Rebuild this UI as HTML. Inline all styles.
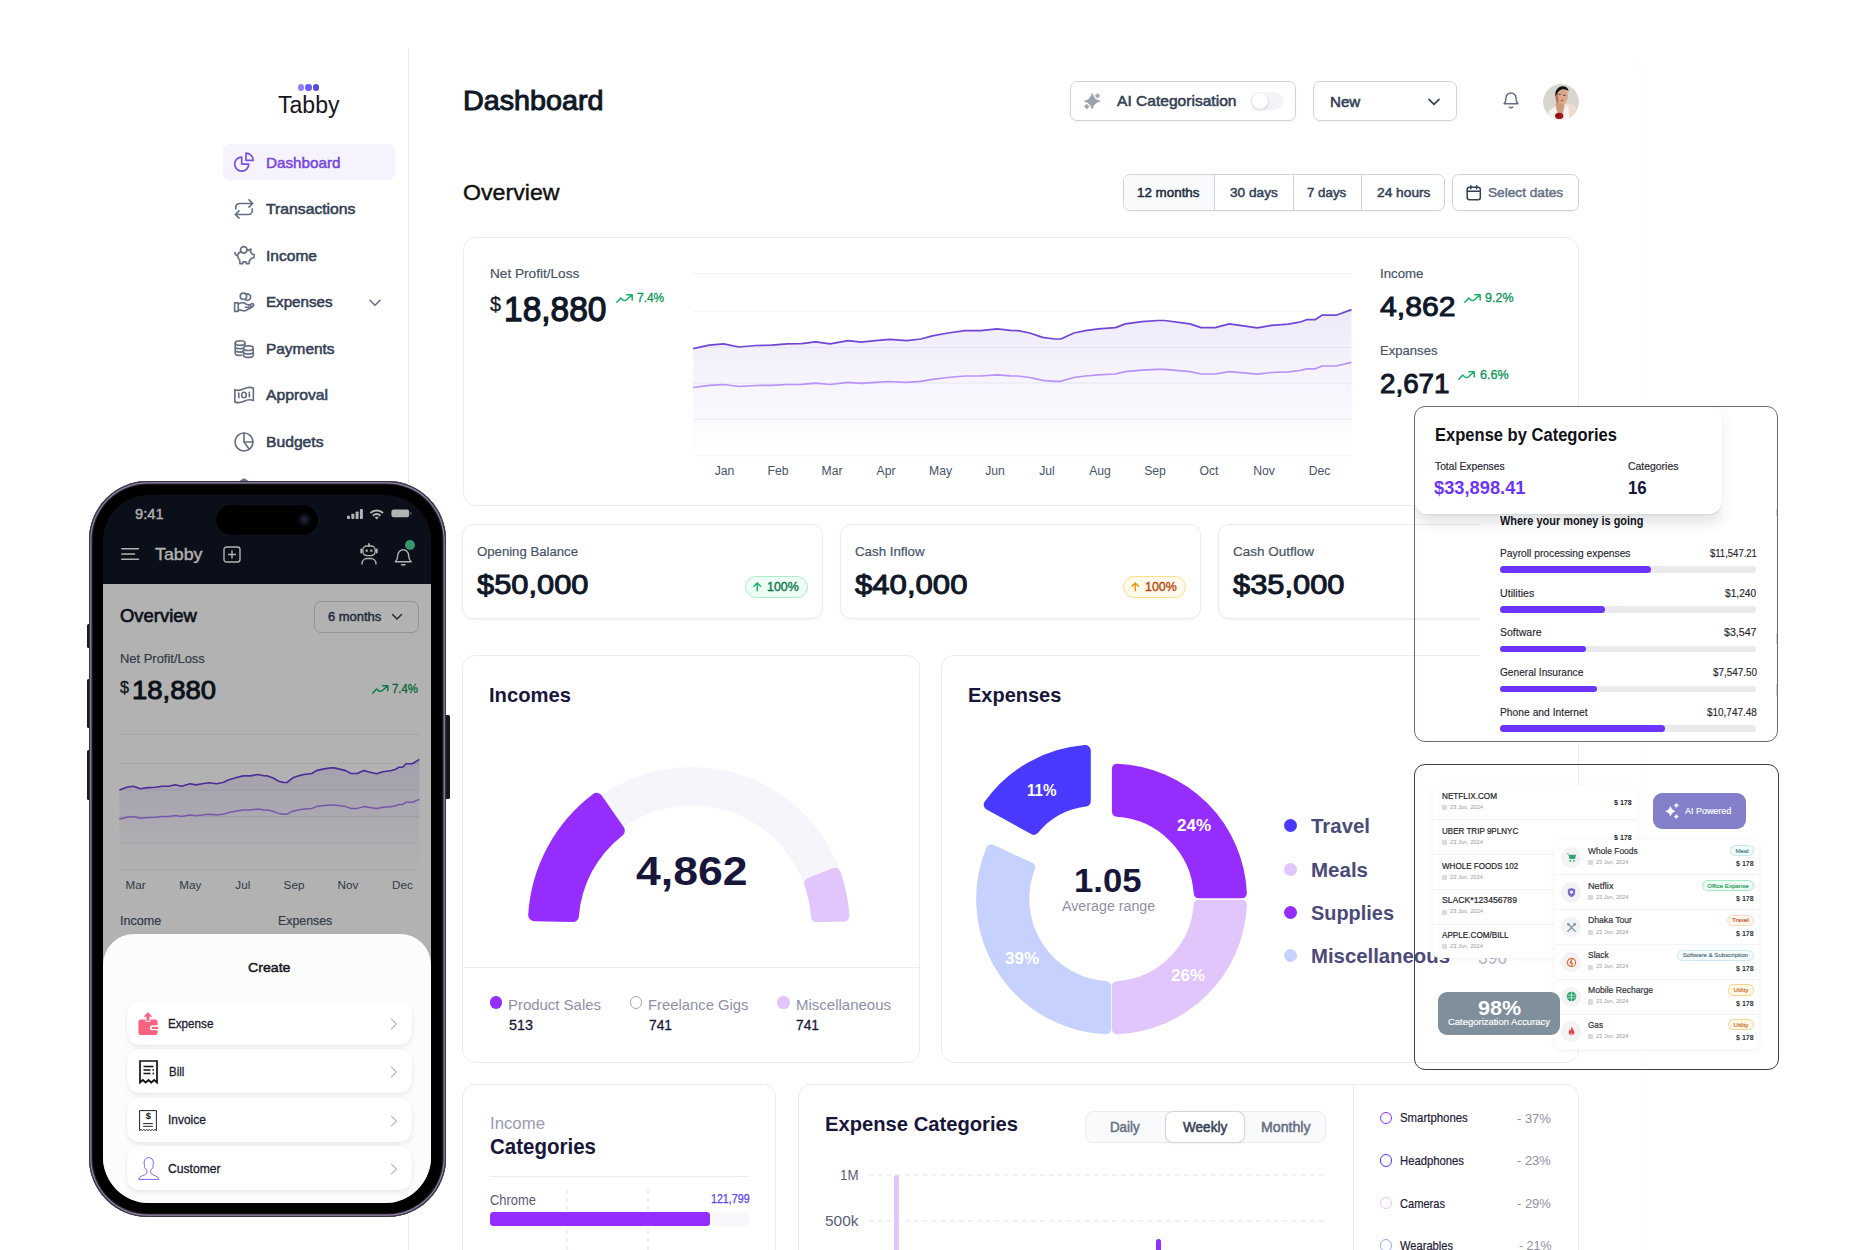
<!DOCTYPE html><html><head><meta charset="utf-8"><title>Tabby Dashboard</title><style>html,body{margin:0;padding:0}body{width:1850px;height:1250px;position:relative;overflow:hidden;background:#fff;font-family:"Liberation Sans", sans-serif;}div{box-sizing:border-box}.t{position:absolute;white-space:nowrap;line-height:1;}svg{position:absolute;overflow:visible}</style></head><body><div style="position:absolute;left:1500px;top:47px;width:142.5px;height:1300px;border-right:1px solid #fbfbfd;border-top:1.2px solid transparent;border-top-right-radius:34px;"></div>
<div style="position:absolute;left:407.5px;top:48px;width:1.2px;height:1202px;background:#e9eaf0;"></div>
<div style="position:absolute;left:297.8px;top:84.10000000000001px;width:6.6px;height:6.6px;border-radius:50%;background:#8b85ff;"></div>
<div style="position:absolute;left:305.2px;top:84.10000000000001px;width:6.6px;height:6.6px;border-radius:50%;background:#6a5cff;"></div>
<div style="position:absolute;left:312.7px;top:84.10000000000001px;width:6.6px;height:6.6px;border-radius:50%;background:#5a48d8;"></div>
<span class="t" style="left:277.50px;top:93.22px;font-size:24.32px;color:#17141c;transform-origin:0 50%;transform:scaleX(0.9477);">Tabby</span>
<div style="position:absolute;left:222.7px;top:144.3px;width:172px;height:35.6px;background:#f6f3fe;border-radius:7px;"></div>
<svg style="left:233px;top:151.3px" width="22" height="22" viewBox="0 0 24 24" fill="none" stroke="#7a50e0" stroke-width="1.82" stroke-linecap="round" stroke-linejoin="round"><path d="M9.500 6.600A7.700 7.700 0 1 0 17.200 14.300H9.500Z"/><path d="M14.200 2.400a7.900 7.900 0 0 1 7.900 7.900h-7.900z"/></svg>
<span class="t" style="left:265.60px;top:155.63px;font-size:14.8px;color:#7848de;-webkit-text-stroke:0.53px #7848de;transform-origin:0 50%;transform:scaleX(1.0291);">Dashboard</span>
<svg style="left:233px;top:197.85000000000002px" width="22" height="22" viewBox="0 0 24 24" fill="none" stroke="#667085" stroke-width="1.82" stroke-linecap="round" stroke-linejoin="round"><path d="M17.500 2L21.500 6l-4 4M21.500 6H7.200A4.200 4.200 0 0 0 3 10.200V12M6.500 22L2.500 18l4-4M2.500 18h14.300A4.200 4.200 0 0 0 21 13.800V12"/></svg>
<span class="t" style="left:265.60px;top:202.18px;font-size:14.8px;color:#344054;-webkit-text-stroke:0.53px #344054;transform-origin:0 50%;transform:scaleX(1.0633);">Transactions</span>
<svg style="left:233px;top:244.4px" width="22" height="22" viewBox="0 0 24 24" fill="none" stroke="#667085" stroke-width="1.82" stroke-linecap="round" stroke-linejoin="round"><circle cx="11.800" cy="6.400" r="3.600"/><path d="M8.600 8.300C6.400 9.200 5.100 11 5.100 13.100c0 1.700.8 3.200 2.100 4.300L7.600 21.500h3l.3-2h3.300l.3 2h3l.5-3.400c.9-.7 1.600-1.500 2-2.500l2.900-.600v-3.800l-2.300-.300c-.3-1-.8-1.800-1.500-2.500l.5-2.800c-1.200.100-2.200.700-2.900 1.500l-1.400-.500M5.200 12.700C3.300 12.700 2 11.400 2.200 9.300"/></svg>
<span class="t" style="left:265.60px;top:248.73px;font-size:14.8px;color:#344054;-webkit-text-stroke:0.53px #344054;transform-origin:0 50%;transform:scaleX(1.0509);">Income</span>
<svg style="left:233px;top:290.95px" width="22" height="22" viewBox="0 0 24 24" fill="none" stroke="#667085" stroke-width="1.82" stroke-linecap="round" stroke-linejoin="round"><circle cx="11.400" cy="5.800" r="3.500"/><path d="M14.600 3.400a3.500 3.500 0 1 1-.7 6.300"/><path d="M1.800 13h3.900v9.200H1.800zM5.700 14.300c1.700-1.100 3.500-1.700 5.300-1.600 1 0 2 .8 3.200 1.600.7.500 1.600.600 2.500.700l2 .100c1.300.100 1.300 2.300 0 2.400l-5.200.200M5.700 20.300l5.500 1.300c.9.200 1.800.100 2.600-.300l7.500-4.200c1.800-1 1.600-3.300-.2-3.300-.5 0-1 .200-1.500.500l-2.300 1.300"/></svg>
<span class="t" style="left:265.60px;top:295.28px;font-size:14.8px;color:#344054;-webkit-text-stroke:0.53px #344054;transform-origin:0 50%;transform:scaleX(1.0233);">Expenses</span>
<svg style="left:233px;top:337.5px" width="22" height="22" viewBox="0 0 24 24" fill="none" stroke="#667085" stroke-width="1.82" stroke-linecap="round" stroke-linejoin="round"><ellipse cx="7.700" cy="5.500" rx="5.300" ry="2.500"/><path d="M2.400 5.500v11c0 1.400 2.300 2.500 5.300 2.500.700 0 1.300-.100 1.900-.200M13 5.500V8.500M2.400 9.200c0 1.400 2.300 2.500 5.300 2.500 1.300 0 2.400-.200 3.300-.500M2.400 12.900c0 1.400 2.300 2.500 5.300 2.500 1.300 0 2.400-.200 3.300-.500"/><ellipse cx="16.800" cy="11.100" rx="5.300" ry="2.500"/><path d="M11.500 11.100v7.600c0 1.400 2.300 2.500 5.300 2.500s5.300-1.100 5.300-2.500V11.100M11.500 14.900c0 1.400 2.300 2.500 5.300 2.500s5.300-1.100 5.300-2.500"/></svg>
<span class="t" style="left:265.60px;top:341.83px;font-size:14.8px;color:#344054;-webkit-text-stroke:0.53px #344054;transform-origin:0 50%;transform:scaleX(1.0411);">Payments</span>
<svg style="left:233px;top:384.05px" width="22" height="22" viewBox="0 0 24 24" fill="none" stroke="#667085" stroke-width="1.82" stroke-linecap="round" stroke-linejoin="round"><path d="M2 6.200C5 7.500 8.500 7 12 5.300S19 3.200 22.200 4.500V18c-3.200-1.300-6.700-.9-10.200.8S5 20.800 2 19.500z"/><ellipse cx="12" cy="12" rx="2.500" ry="3"/><path d="M6.300 10v5M17.800 9v5"/></svg>
<span class="t" style="left:265.60px;top:388.38px;font-size:14.8px;color:#344054;-webkit-text-stroke:0.53px #344054;transform-origin:0 50%;transform:scaleX(1.0615);">Approval</span>
<svg style="left:233px;top:430.59999999999997px" width="22" height="22" viewBox="0 0 24 24" fill="none" stroke="#667085" stroke-width="1.82" stroke-linecap="round" stroke-linejoin="round"><circle cx="12" cy="12" r="9.800"/><path d="M12 2.200V12h9.800M12 12l5.800 7.900"/></svg>
<span class="t" style="left:265.60px;top:434.93px;font-size:14.8px;color:#344054;-webkit-text-stroke:0.53px #344054;transform-origin:0 50%;transform:scaleX(1.0590);">Budgets</span>
<svg style="left:368px;top:297.500px" width="14" height="10" viewBox="0 0 14 10" fill="none" stroke="#667085" stroke-width="1.600" stroke-linecap="round" stroke-linejoin="round"><path d="M2 2.300l5 5 5-5"/></svg>
<svg style="left:233px;top:477.15px" width="22" height="22" viewBox="0 0 24 24" fill="none" stroke="#667085" stroke-width="1.82" stroke-linecap="round" stroke-linejoin="round"><path d="M12 2.300L2.500 8h19zM4.500 8v9M9.500 8v9M14.500 8v9M19.500 8v9M2.500 20.500h19"/></svg>
<span class="t" style="left:463.00px;top:87.09px;font-size:27.94px;color:#101828;-webkit-text-stroke:1.01px #101828;transform-origin:0 50%;transform:scaleX(1.0279);">Dashboard</span>
<div style="position:absolute;left:1070px;top:81px;width:225.6px;height:40px;border:1px solid #d0d5dd;border-radius:7px;box-shadow:0 1px 2px rgba(16,24,40,.06);"></div>
<svg style="left:0;top:0" width="1850" height="1250" viewBox="0 0 1850 1250" fill="#98a2b3" stroke="#98a2b3" stroke-width="0.9" stroke-linejoin="round"><path d="M1092.20,93.50Q1093.66,99.74 1099.90,101.20Q1093.66,102.66 1092.20,108.90Q1090.74,102.66 1084.50,101.20Q1090.74,99.74 1092.20,93.50Z"/><path d="M1097.50,93.50Q1098.19,95.11 1099.80,95.80Q1098.19,96.49 1097.50,98.10Q1096.81,96.49 1095.20,95.80Q1096.81,95.11 1097.50,93.50Z"/><path d="M1086.80,104.20Q1087.52,105.88 1089.20,106.60Q1087.52,107.32 1086.80,109.00Q1086.08,107.32 1084.40,106.60Q1086.08,105.88 1086.80,104.20Z"/></svg>
<span class="t" style="left:1116.80px;top:94.13px;font-size:14.8px;color:#344054;-webkit-text-stroke:0.53px #344054;transform-origin:0 50%;transform:scaleX(1.0527);">AI Categorisation</span>
<div style="position:absolute;left:1251px;top:92.3px;width:32px;height:17.6px;background:#f2f4f7;border-radius:9px;"></div>
<div style="position:absolute;left:1252px;top:93.3px;width:15.6px;height:15.6px;background:#fff;border-radius:50%;box-shadow:0 1px 3px rgba(16,24,40,.2);"></div>
<div style="position:absolute;left:1313.4px;top:81px;width:143.4px;height:40px;border:1px solid #d0d5dd;border-radius:7px;box-shadow:0 1px 2px rgba(16,24,40,.06);"></div>
<span class="t" style="left:1330.00px;top:94.12px;font-size:15.01px;color:#344054;-webkit-text-stroke:0.54px #344054;transform-origin:0 50%;transform:scaleX(1.0095);">New</span>
<svg style="left:1426.500px;top:96.500px" width="14" height="10" viewBox="0 0 14 10" fill="none" stroke="#344054" stroke-width="1.700" stroke-linecap="round" stroke-linejoin="round"><path d="M2 2.300l5 5 5-5"/></svg>
<svg style="left:1500.5px;top:89.5px" width="20" height="20" viewBox="0 0 24 24" fill="none" stroke="#667085" stroke-width="1.80" stroke-linecap="round" stroke-linejoin="round"><path d="M6 9.500a6 6 0 0 1 12 0c0 3.500 1 5.500 2.300 7H3.700C5 15 6 13 6 9.500zM10 20.500c1.200.8 2.800.8 4 0"/></svg>
<svg style="left:1543px;top:83.800px" width="36" height="36" viewBox="0 0 36 36">
<defs><clipPath id="avc"><circle cx="18" cy="18" r="17.900"/></clipPath></defs>
<g clip-path="url(#avc)"><rect width="36" height="36" fill="#d8d4ce"/>
<path d="M23 20c3-1 7 0 10 2v14H22z" fill="#efdccf"/>
<path d="M4 36c0-6 2-10 6-12l4-3 2 8 4 5 1-8 2-6c2 1 3 4 3 8v8z" fill="#f6f3f0"/>
<path d="M12.500 21l2-5h6l.5 5c0 3-1 6-2 9h-4c-1-3-2-6-2.500-9z" fill="#d09a7e"/>
<path d="M12.300 11c0-4 3-6 6.500-6 3.700 0 6.200 2.500 6.200 6 0 4.500-2.500 9.500-6 9.500-3.800 0-6.700-5-6.700-9.500z" fill="#dba88d"/>
<path d="M12.300 11c0-3 1.500-5 3.500-5.600-1 3-1 7-.3 11.600-.3 1.500-.5 2.500-1 3-1.400-2.500-2.200-6-2.200-9z" fill="#a9735b"/>
<path d="M12.500 12c-.8-5 2-9.500 7-9.800 3.500-.2 6 2 6 5-2-1.800-5-2.500-7.500-1.500-2.500 1-4 3.500-5.500 6.300z" fill="#17121a"/>
<ellipse cx="21.300" cy="11.300" rx="1.300" ry=".6" fill="#3a3340"/><ellipse cx="16.800" cy="10.600" rx="1.100" ry=".5" fill="#3a3340"/>
<ellipse cx="19" cy="16.400" rx="1" ry=".6" fill="#b3262a"/>
<ellipse cx="16.200" cy="31.900" rx="4.200" ry="3.100" fill="#a3161a"/><circle cx="15" cy="31.500" r="1.200" fill="#5d0c10"/></g></svg>
<span class="t" style="left:463.00px;top:181.96px;font-size:22.25px;color:#111;-webkit-text-stroke:0.42px #111;transform-origin:0 50%;transform:scaleX(1.0406);">Overview</span>
<div style="position:absolute;left:1122.6px;top:174.4px;width:322.6px;height:36.6px;border:1px solid #d0d5dd;border-radius:7px;overflow:hidden;box-shadow:0 1px 2px rgba(16,24,40,.05);"><div style="position:absolute;left:0;top:0;width:91px;height:100%;background:#f9fafb"></div><div style="position:absolute;left:90.59999999999991px;top:0;width:1px;height:100%;background:#d0d5dd"></div><div style="position:absolute;left:169px;top:0;width:1px;height:100%;background:#d0d5dd"></div><div style="position:absolute;left:237.20000000000005px;top:0;width:1px;height:100%;background:#d0d5dd"></div></div>
<span class="t" style="left:1137.20px;top:186.00px;font-size:13.66px;color:#1d2939;-webkit-text-stroke:0.49px #1d2939;transform-origin:0 50%;transform:scaleX(0.9799);">12 months</span>
<span class="t" style="left:1229.90px;top:186.00px;font-size:13.66px;color:#344054;-webkit-text-stroke:0.49px #344054;transform-origin:0 50%;transform:scaleX(0.9991);">30 days</span>
<span class="t" style="left:1307.20px;top:186.00px;font-size:13.66px;color:#344054;-webkit-text-stroke:0.49px #344054;transform-origin:0 50%;transform:scaleX(0.9739);">7 days</span>
<span class="t" style="left:1376.50px;top:186.00px;font-size:13.66px;color:#344054;-webkit-text-stroke:0.49px #344054;transform-origin:0 50%;transform:scaleX(1.0065);">24 hours</span>
<div style="position:absolute;left:1452.2px;top:174.4px;width:126.6px;height:36.6px;border:1px solid #d0d5dd;border-radius:7px;box-shadow:0 1px 2px rgba(16,24,40,.05);"></div>
<svg style="left:1465px;top:184px" width="17.5" height="17.5" viewBox="0 0 24 24" fill="none" stroke="#344054" stroke-width="2.06" stroke-linecap="round" stroke-linejoin="round"><rect x="3" y="4.500" width="18" height="17" rx="3"/><path d="M3 10h18M8 2.500v4M16 2.500v4"/></svg>
<span class="t" style="left:1488.30px;top:186.00px;font-size:13.66px;color:#667085;-webkit-text-stroke:0.49px #667085;transform-origin:0 50%;transform:scaleX(1.0006);">Select dates</span>
<div style="position:absolute;left:462.6px;top:237.3px;width:1116.3px;height:268.9px;border:1.3px solid #eaecf0;border-radius:13px;"></div>
<span class="t" style="left:489.90px;top:266.71px;font-size:13.45px;color:#475467;-webkit-text-stroke:0.2px #475467;transform-origin:0 50%;transform:scaleX(1.0133);">Net Profit/Loss</span>
<span class="t" style="left:489.60px;top:294.31px;font-size:20.18px;color:#101828;-webkit-text-stroke:0.3px #101828;transform-origin:0 50%;transform:scaleX(0.9805);">$</span>
<span class="t" style="left:503.50px;top:291.79px;font-size:34.67px;color:#101828;-webkit-text-stroke:1.25px #101828;transform-origin:0 50%;transform:scaleX(0.9670);">18,880</span>
<svg style="left:615.5px;top:293.8px" width="17" height="9.2" viewBox="0 0 17 9.200" fill="none" stroke="#17b26a" stroke-width="1.5" stroke-linecap="round" stroke-linejoin="round"><path d="M.8 8.300l4-4.300 2.700 2.500 2.500-.3L16 .9M10.800.8H16.200V6"/></svg>
<span class="t" style="left:637.00px;top:291.97px;font-size:12.73px;color:#079455;-webkit-text-stroke:0.3px #079455;transform-origin:0 50%;transform:scaleX(0.9379);">7.4%</span>
<svg style="left:0;top:0" width="1850" height="1250" viewBox="0 0 1850 1250"><defs><linearGradient id="cg" x1="0" y1="0" x2="0" y2="1"><stop offset="0" stop-color="#7f56d9" stop-opacity="0.13"/><stop offset="1" stop-color="#7f56d9" stop-opacity="0"/></linearGradient></defs><line x1="693" y1="273.4" x2="1352" y2="273.4" stroke="#f2f4f7" stroke-width="1.2"/><line x1="693" y1="311.5" x2="1352" y2="311.5" stroke="#f2f4f7" stroke-width="1.2"/><line x1="693" y1="347.5" x2="1352" y2="347.5" stroke="#f2f4f7" stroke-width="1.2"/><line x1="693" y1="383.2" x2="1352" y2="383.2" stroke="#f2f4f7" stroke-width="1.2"/><line x1="693" y1="419.2" x2="1352" y2="419.2" stroke="#f2f4f7" stroke-width="1.2"/><line x1="693" y1="455.6" x2="1352" y2="455.6" stroke="#f2f4f7" stroke-width="1.2"/><polygon points="693,455.6 693.2,348.6 709.3,345.2 723.6,343.9 739.1,347.0 756.0,345.5 771.6,345.2 787.1,343.9 801.4,343.7 815.7,341.9 830.0,343.9 848.1,340.6 861.1,342.1 875.4,340.6 889.6,339.3 906.5,340.6 920.8,339.0 932.4,335.9 948.0,333.0 964.9,330.7 980.4,330.7 997.3,328.9 1010.3,330.4 1018.1,330.7 1029.7,333.0 1042.7,337.4 1054.4,339.0 1060.9,339.0 1073.9,333.0 1085.5,330.7 1098.5,328.9 1115.5,327.6 1125.3,323.9 1142.2,321.7 1157.6,320.5 1164.6,320.5 1189.9,323.9 1201.2,327.6 1215.2,327.6 1229.3,323.9 1243.3,325.9 1257.4,327.9 1271.4,325.3 1288.3,324.2 1299.6,322.2 1306.6,319.7 1315.0,319.7 1322.0,315.2 1336.1,315.2 1351.5,309.6 1352,455.6" fill="url(#cg)"/><polyline points="693.2,348.6 709.3,345.2 723.6,343.9 739.1,347.0 756.0,345.5 771.6,345.2 787.1,343.9 801.4,343.7 815.7,341.9 830.0,343.9 848.1,340.6 861.1,342.1 875.4,340.6 889.6,339.3 906.5,340.6 920.8,339.0 932.4,335.9 948.0,333.0 964.9,330.7 980.4,330.7 997.3,328.9 1010.3,330.4 1018.1,330.7 1029.7,333.0 1042.7,337.4 1054.4,339.0 1060.9,339.0 1073.9,333.0 1085.5,330.7 1098.5,328.9 1115.5,327.6 1125.3,323.9 1142.2,321.7 1157.6,320.5 1164.6,320.5 1189.9,323.9 1201.2,327.6 1215.2,327.6 1229.3,323.9 1243.3,325.9 1257.4,327.9 1271.4,325.3 1288.3,324.2 1299.6,322.2 1306.6,319.7 1315.0,319.7 1322.0,315.2 1336.1,315.2 1351.5,309.6" fill="none" stroke="#7345d6" stroke-width="1.700" stroke-linejoin="round"/><polyline points="693.2,387.5 709.3,385.3 723.6,384.5 739.1,386.5 756.0,385.5 771.6,385.3 787.1,384.5 801.4,384.3 815.7,383.2 830.0,384.5 848.1,382.3 861.1,383.3 875.4,382.3 889.6,381.5 906.5,382.3 920.8,381.3 932.4,379.3 948.0,377.5 964.9,376.0 980.4,376.0 997.3,374.8 1010.3,375.8 1018.1,376.0 1029.7,377.5 1042.7,380.3 1054.4,381.3 1060.9,381.3 1073.9,377.5 1085.5,376.0 1098.5,374.8 1115.5,374.0 1125.3,371.6 1142.2,370.2 1157.6,369.4 1164.6,369.4 1189.9,371.6 1201.2,374.0 1215.2,374.0 1229.3,371.6 1243.3,372.9 1257.4,374.2 1271.4,372.5 1288.3,371.8 1299.6,370.5 1306.6,368.9 1315.0,368.9 1322.0,366.0 1336.1,366.0 1351.5,362.4" fill="none" stroke="#b892f8" stroke-width="1.700" stroke-linejoin="round"/></svg>
<span class="t" style="left:724.50px;top:465.13px;font-size:12.21px;color:#475467;transform:translateX(-50%);">Jan</span>
<span class="t" style="left:778.00px;top:465.13px;font-size:12.21px;color:#475467;transform:translateX(-50%);">Feb</span>
<span class="t" style="left:832.00px;top:465.13px;font-size:12.21px;color:#475467;transform:translateX(-50%);">Mar</span>
<span class="t" style="left:886.00px;top:465.13px;font-size:12.21px;color:#475467;transform:translateX(-50%);">Apr</span>
<span class="t" style="left:940.50px;top:465.13px;font-size:12.21px;color:#475467;transform:translateX(-50%);">May</span>
<span class="t" style="left:995.00px;top:465.13px;font-size:12.21px;color:#475467;transform:translateX(-50%);">Jun</span>
<span class="t" style="left:1047.00px;top:465.13px;font-size:12.21px;color:#475467;transform:translateX(-50%);">Jul</span>
<span class="t" style="left:1100.00px;top:465.13px;font-size:12.21px;color:#475467;transform:translateX(-50%);">Aug</span>
<span class="t" style="left:1155.00px;top:465.13px;font-size:12.21px;color:#475467;transform:translateX(-50%);">Sep</span>
<span class="t" style="left:1209.00px;top:465.13px;font-size:12.21px;color:#475467;transform:translateX(-50%);">Oct</span>
<span class="t" style="left:1264.00px;top:465.13px;font-size:12.21px;color:#475467;transform:translateX(-50%);">Nov</span>
<span class="t" style="left:1319.50px;top:465.13px;font-size:12.21px;color:#475467;transform:translateX(-50%);">Dec</span>
<span class="t" style="left:1380.00px;top:266.71px;font-size:13.45px;color:#475467;-webkit-text-stroke:0.2px #475467;transform-origin:0 50%;transform:scaleX(0.9869);">Income</span>
<span class="t" style="left:1379.50px;top:293.25px;font-size:27.22px;color:#101828;-webkit-text-stroke:0.98px #101828;transform-origin:0 50%;transform:scaleX(1.1083);">4,862</span>
<svg style="left:1463.5px;top:293.8px" width="17" height="9.2" viewBox="0 0 17 9.200" fill="none" stroke="#17b26a" stroke-width="1.5" stroke-linecap="round" stroke-linejoin="round"><path d="M.8 8.300l4-4.300 2.700 2.500 2.500-.3L16 .9M10.800.8H16.200V6"/></svg>
<span class="t" style="left:1485.00px;top:291.97px;font-size:12.73px;color:#079455;-webkit-text-stroke:0.3px #079455;transform-origin:0 50%;transform:scaleX(0.9828);">9.2%</span>
<span class="t" style="left:1380.00px;top:343.71px;font-size:13.45px;color:#475467;-webkit-text-stroke:0.2px #475467;transform-origin:0 50%;transform:scaleX(0.9743);">Expanses</span>
<span class="t" style="left:1379.50px;top:370.25px;font-size:27.22px;color:#101828;-webkit-text-stroke:0.98px #101828;transform-origin:0 50%;transform:scaleX(1.0202);">2,671</span>
<svg style="left:1458px;top:370.8px" width="17" height="9.2" viewBox="0 0 17 9.200" fill="none" stroke="#17b26a" stroke-width="1.5" stroke-linecap="round" stroke-linejoin="round"><path d="M.8 8.300l4-4.300 2.700 2.500 2.500-.3L16 .9M10.800.8H16.200V6"/></svg>
<span class="t" style="left:1479.50px;top:368.97px;font-size:12.73px;color:#079455;-webkit-text-stroke:0.3px #079455;transform-origin:0 50%;transform:scaleX(0.9828);">6.6%</span>
<div style="position:absolute;left:462.3px;top:523.7px;width:361px;height:95.6px;border:1.3px solid #eaecf0;border-radius:11px;box-shadow:0 1px 2px rgba(16,24,40,.05);"></div>
<span class="t" style="left:477.20px;top:544.51px;font-size:13.45px;color:#475467;-webkit-text-stroke:0.2px #475467;transform-origin:0 50%;transform:scaleX(0.9795);">Opening Balance</span>
<span class="t" style="left:476.80px;top:570.03px;font-size:28.46px;color:#101828;-webkit-text-stroke:1.02px #101828;transform-origin:0 50%;transform:scaleX(1.0840);">$50,000</span>
<div style="position:absolute;left:745.0px;top:576.1px;width:63px;height:21.5px;background:#ecfdf3;border:1px solid #abefc6;border-radius:11px;"></div>
<svg style="left:753.3px;top:582.300px" width="8.500" height="9.500" viewBox="0 0 8.500 9.500" fill="none" stroke="#17b26a" stroke-width="1.400" stroke-linecap="round" stroke-linejoin="round"><path d="M4.250 8.700V1M1 4.200L4.250.9 7.500 4.200"/></svg>
<span class="t" style="left:766.80px;top:580.62px;font-size:12.63px;color:#067647;-webkit-text-stroke:0.35px #067647;transform-origin:0 50%;transform:scaleX(0.9815);">100%</span>
<div style="position:absolute;left:840.1px;top:523.7px;width:361px;height:95.6px;border:1.3px solid #eaecf0;border-radius:11px;box-shadow:0 1px 2px rgba(16,24,40,.05);"></div>
<span class="t" style="left:855.00px;top:544.51px;font-size:13.45px;color:#475467;-webkit-text-stroke:0.2px #475467;transform-origin:0 50%;transform:scaleX(0.9898);">Cash Inflow</span>
<span class="t" style="left:854.60px;top:570.03px;font-size:28.46px;color:#101828;-webkit-text-stroke:1.02px #101828;transform-origin:0 50%;transform:scaleX(1.0937);">$40,000</span>
<div style="position:absolute;left:1122.8px;top:576.1px;width:63px;height:21.5px;background:#fffaeb;border:1px solid #fedf89;border-radius:11px;"></div>
<svg style="left:1131.1px;top:582.300px" width="8.500" height="9.500" viewBox="0 0 8.500 9.500" fill="none" stroke="#f79009" stroke-width="1.400" stroke-linecap="round" stroke-linejoin="round"><path d="M4.250 8.700V1M1 4.200L4.250.9 7.500 4.200"/></svg>
<span class="t" style="left:1144.60px;top:580.62px;font-size:12.63px;color:#b54708;-webkit-text-stroke:0.35px #b54708;transform-origin:0 50%;transform:scaleX(0.9815);">100%</span>
<div style="position:absolute;left:1218.0px;top:523.7px;width:361px;height:95.6px;border:1.3px solid #eaecf0;border-radius:11px;box-shadow:0 1px 2px rgba(16,24,40,.05);"></div>
<span class="t" style="left:1232.90px;top:544.51px;font-size:13.45px;color:#475467;-webkit-text-stroke:0.2px #475467;transform-origin:0 50%;transform:scaleX(1.0041);">Cash Outflow</span>
<span class="t" style="left:1232.50px;top:570.03px;font-size:28.46px;color:#101828;-webkit-text-stroke:1.02px #101828;transform-origin:0 50%;transform:scaleX(1.0840);">$35,000</span>
<div style="position:absolute;left:462.4px;top:654.9px;width:457.5px;height:408px;border:1.3px solid #eaecf0;border-radius:13px;"></div>
<span class="t" style="left:489.40px;top:684.39px;font-size:21.01px;color:#18163a;font-weight:700;transform-origin:0 50%;transform:scaleX(0.9624);">Incomes</span>
<div style="position:absolute;left:463.5px;top:966.7px;width:455px;height:1.2px;background:#eaecf0;"></div>
<svg style="left:0;top:0" width="1850" height="1250" viewBox="0 0 1850 1250"><path d="M533.90,920.87A157.90,157.90 0 0 1 849.60,920.87L811.21,921.87A119.50,119.50 0 0 0 572.29,921.87Z" fill="#f6f5fb"/><path d="M534.16,915.15A157.90,157.90 0 0 1 596.77,798.86L618.88,830.67A119.20,119.20 0 0 0 572.88,916.09Z" fill="#962dff" stroke="#962dff" stroke-width="12" stroke-linejoin="round"/><path d="M834.73,873.70A151.90,151.90 0 0 1 843.36,915.56L816.94,916.16A125.50,125.50 0 0 0 810.23,883.60Z" fill="#e0c6fd" stroke="#e0c6fd" stroke-width="12" stroke-linejoin="round"/></svg>
<span class="t" style="left:635.50px;top:850.66px;font-size:40.88px;color:#18163a;font-weight:700;transform-origin:0 50%;transform:scaleX(1.0900);">4,862</span>
<div style="position:absolute;left:489.5px;top:996.2px;width:12.6px;height:12.6px;border-radius:50%;background:#962dff;"></div>
<div style="position:absolute;left:630px;top:996.3px;width:12.4px;height:12.4px;border-radius:50%;border:1.3px solid #a9a8bd;background:#fff;"></div>
<div style="position:absolute;left:777.4px;top:996.2px;width:12.6px;height:12.6px;border-radius:50%;background:#e0c6fd;"></div>
<span class="t" style="left:508.00px;top:997.46px;font-size:15.32px;color:#908fa9;transform-origin:0 50%;transform:scaleX(0.9754);">Product Sales</span>
<span class="t" style="left:508.50px;top:1016.86px;font-size:15.32px;color:#18163a;-webkit-text-stroke:0.3px #18163a;transform-origin:0 50%;transform:scaleX(0.9389);">513</span>
<span class="t" style="left:648.20px;top:997.46px;font-size:15.32px;color:#908fa9;transform-origin:0 50%;transform:scaleX(0.9678);">Freelance Gigs</span>
<span class="t" style="left:648.50px;top:1016.86px;font-size:15.32px;color:#18163a;-webkit-text-stroke:0.3px #18163a;transform-origin:0 50%;transform:scaleX(0.8998);">741</span>
<span class="t" style="left:796.00px;top:997.46px;font-size:15.32px;color:#908fa9;transform-origin:0 50%;transform:scaleX(0.9791);">Miscellaneous</span>
<span class="t" style="left:796.30px;top:1016.86px;font-size:15.32px;color:#18163a;-webkit-text-stroke:0.3px #18163a;transform-origin:0 50%;transform:scaleX(0.8998);">741</span>
<div style="position:absolute;left:940.7px;top:654.9px;width:638.2px;height:408px;border:1.3px solid #eaecf0;border-radius:13px;"></div>
<span class="t" style="left:968.20px;top:684.39px;font-size:21.01px;color:#18163a;font-weight:700;transform-origin:0 50%;transform:scaleX(0.9514);">Expenses</span>
<svg style="left:0;top:0" width="1850" height="1250" viewBox="0 0 1850 1250"><path d="M1116.90,768.71A130.40,130.40 0 0 1 1241.88,893.30L1198.71,893.30A87.30,87.30 0 0 0 1116.90,811.86Z" fill="#962dff" stroke="#962dff" stroke-width="10" stroke-linejoin="round"/><path d="M1241.88,904.70A130.40,130.40 0 0 1 1117.00,1029.29L1117.00,986.13A87.30,87.30 0 0 0 1198.71,904.70Z" fill="#e0c6fd" stroke="#e0c6fd" stroke-width="10" stroke-linejoin="round"/><path d="M1106.20,1029.29A130.40,130.40 0 0 1 991.04,849.30L1030.27,867.26A87.30,87.30 0 0 0 1106.20,986.13Z" fill="#c6d2fd" stroke="#c6d2fd" stroke-width="10" stroke-linejoin="round"/><path d="M989.24,804.74A129.80,129.80 0 0 1 1085.30,750.56L1085.30,801.09A79.50,79.50 0 0 0 1033.81,829.24Z" fill="#4a3aff" stroke="#4a3aff" stroke-width="11.0" stroke-linejoin="round"/></svg>
<span class="t" style="left:1027.05px;top:783.24px;font-size:16.56px;color:#fff;font-weight:700;transform-origin:0 50%;transform:scaleX(0.9156);">11%</span>
<span class="t" style="left:1177.30px;top:818.44px;font-size:16.56px;color:#fff;font-weight:700;transform-origin:0 50%;transform:scaleX(1.0264);">24%</span>
<span class="t" style="left:1170.90px;top:968.04px;font-size:16.56px;color:#fff;font-weight:700;transform-origin:0 50%;transform:scaleX(1.0264);">26%</span>
<span class="t" style="left:1005.30px;top:950.84px;font-size:16.56px;color:#fff;font-weight:700;transform-origin:0 50%;transform:scaleX(1.0264);">39%</span>
<span class="t" style="left:1073.90px;top:865.04px;font-size:32.6px;color:#18163a;font-weight:700;transform-origin:0 50%;transform:scaleX(1.0643);">1.05</span>
<span class="t" style="left:1061.90px;top:899.48px;font-size:14.49px;color:#8f90a6;transform-origin:0 50%;transform:scaleX(0.9835);">Average range</span>
<div style="position:absolute;left:1283.7px;top:819.3px;width:13px;height:13px;border-radius:50%;background:#4a3aff;"></div>
<span class="t" style="left:1311.30px;top:815.85px;font-size:20.29px;color:#4b4a78;font-weight:700;transform-origin:0 50%;transform:scaleX(1.0061);">Travel</span>
<div style="position:absolute;left:1283.7px;top:863.0px;width:13px;height:13px;border-radius:50%;background:#e0c6fd;"></div>
<span class="t" style="left:1311.30px;top:859.55px;font-size:20.29px;color:#4b4a78;font-weight:700;transform-origin:0 50%;transform:scaleX(1.0111);">Meals</span>
<div style="position:absolute;left:1283.7px;top:906.3px;width:13px;height:13px;border-radius:50%;background:#962dff;"></div>
<span class="t" style="left:1311.30px;top:902.85px;font-size:20.29px;color:#4b4a78;font-weight:700;transform-origin:0 50%;transform:scaleX(0.9819);">Supplies</span>
<div style="position:absolute;left:1283.7px;top:949.2px;width:13px;height:13px;border-radius:50%;background:#c6d2fd;"></div>
<span class="t" style="left:1311.30px;top:945.75px;font-size:20.29px;color:#4b4a78;font-weight:700;transform-origin:0 50%;transform:scaleX(1.0025);">Miscellaneous</span>
<span class="t" style="left:1478.00px;top:947.25px;font-size:20.29px;color:#b9b8cc;transform-origin:0 50%;transform:scaleX(0.8569);">396</span>
<div style="position:absolute;left:462.2px;top:1084px;width:313.7px;height:200px;border:1.3px solid #eaecf0;border-radius:13px;"></div>
<span class="t" style="left:489.90px;top:1114.87px;font-size:17.08px;color:#9b9ab0;transform-origin:0 50%;transform:scaleX(0.9819);">Income</span>
<span class="t" style="left:489.90px;top:1137.23px;font-size:21.32px;color:#18163a;font-weight:700;transform-origin:0 50%;transform:scaleX(0.9623);">Categories</span>
<div style="position:absolute;left:489.9px;top:1176.2px;width:259.2px;height:1.2px;background:#ececf3;"></div>
<svg style="left:565.7px;top:1190px" width="2" height="60"><line x1="1" y1="0" x2="1" y2="60" stroke="#dfdfea" stroke-width="1" stroke-dasharray="4 4"/></svg>
<svg style="left:647.3px;top:1190px" width="2" height="60"><line x1="1" y1="0" x2="1" y2="60" stroke="#dfdfea" stroke-width="1" stroke-dasharray="4 4"/></svg>
<span class="t" style="left:489.90px;top:1192.69px;font-size:14.08px;color:#5d5c7a;transform-origin:0 50%;transform:scaleX(0.9146);">Chrome</span>
<span class="t" style="left:710.50px;top:1192.83px;font-size:12.01px;color:#5b3df5;-webkit-text-stroke:0.25px #5b3df5;transform-origin:0 50%;transform:scaleX(0.8896);">121,799</span>
<div style="position:absolute;left:489.9px;top:1212.4px;width:259.2px;height:13.9px;background:#f8f7fc;border-radius:4px;"></div>
<div style="position:absolute;left:489.9px;top:1212.4px;width:219.8px;height:13.9px;background:#962dff;border-radius:3.500px;"></div>
<div style="position:absolute;left:797.6px;top:1084px;width:781.3px;height:200px;border:1.3px solid #eaecf0;border-radius:13px;"></div>
<span class="t" style="left:824.70px;top:1113.64px;font-size:20.91px;color:#18163a;font-weight:700;transform-origin:0 50%;transform:scaleX(0.9657);">Expense Categories</span>
<div style="position:absolute;left:1084.5px;top:1111.4px;width:241px;height:31.4px;background:#f9fafb;border:1px solid #eaecf0;border-radius:8px;"></div>
<div style="position:absolute;left:1165.2px;top:1111.4px;width:79.6px;height:31.4px;background:#fff;border:1px solid #d0d5dd;border-radius:8px;box-shadow:0 1px 2px rgba(16,24,40,.06);"></div>
<span class="t" style="left:1109.50px;top:1120.39px;font-size:14.08px;color:#667085;-webkit-text-stroke:0.51px #667085;transform-origin:0 50%;transform:scaleX(0.9458);">Daily</span>
<span class="t" style="left:1182.90px;top:1120.39px;font-size:14.08px;color:#344054;-webkit-text-stroke:0.51px #344054;transform-origin:0 50%;transform:scaleX(0.9628);">Weekly</span>
<span class="t" style="left:1260.70px;top:1120.39px;font-size:14.08px;color:#667085;-webkit-text-stroke:0.51px #667085;transform-origin:0 50%;transform:scaleX(1.0061);">Monthly</span>
<span class="t" style="left:840.30px;top:1167.46px;font-size:15.52px;color:#5d5c7a;transform-origin:0 50%;transform:scaleX(0.8580);">1M</span>
<span class="t" style="left:825.30px;top:1213.06px;font-size:15.52px;color:#5d5c7a;transform-origin:0 50%;transform:scaleX(0.9954);">500k</span>
<svg style="left:869px;top:1174.2px" width="457" height="2"><line x1="0" y1="1" x2="457" y2="1" stroke="#e3e3ee" stroke-width="1.200" stroke-dasharray="4.500 4.500"/></svg>
<svg style="left:869px;top:1219.8px" width="457" height="2"><line x1="0" y1="1" x2="457" y2="1" stroke="#e3e3ee" stroke-width="1.200" stroke-dasharray="4.500 4.500"/></svg>
<div style="position:absolute;left:893.8px;top:1175px;width:5.2px;height:90px;background:#e0c6fd;border-radius:2.500px;"></div>
<div style="position:absolute;left:1155.8px;top:1239px;width:5.4px;height:30px;background:#962dff;border-radius:2.500px;"></div>
<div style="position:absolute;left:1353px;top:1085px;width:1.2px;height:170px;background:#eaecf0;"></div>
<div style="position:absolute;left:1379.8px;top:1111.6px;width:12.4px;height:12.4px;border-radius:50%;border:1.400px solid #962dff;"></div>
<span class="t" style="left:1400.30px;top:1112.08px;font-size:12.11px;color:#1e1b39;-webkit-text-stroke:0.2px #1e1b39;transform-origin:0 50%;transform:scaleX(0.9413);">Smartphones</span>
<span class="t" style="left:1517.40px;top:1111.51px;font-size:13.45px;color:#9291a5;transform-origin:0 50%;transform:scaleX(0.9627);">- 37%</span>
<div style="position:absolute;left:1379.8px;top:1154.3999999999999px;width:12.4px;height:12.4px;border-radius:50%;border:1.400px solid #4a3aff;"></div>
<span class="t" style="left:1400.30px;top:1154.88px;font-size:12.11px;color:#1e1b39;-webkit-text-stroke:0.2px #1e1b39;transform-origin:0 50%;transform:scaleX(0.9318);">Headphones</span>
<span class="t" style="left:1517.40px;top:1154.31px;font-size:13.45px;color:#9291a5;transform-origin:0 50%;transform:scaleX(0.9627);">- 23%</span>
<div style="position:absolute;left:1379.8px;top:1197.1px;width:12.4px;height:12.4px;border-radius:50%;border:1.400px solid #e0c6fd;"></div>
<span class="t" style="left:1400.30px;top:1197.58px;font-size:12.11px;color:#1e1b39;-webkit-text-stroke:0.2px #1e1b39;transform-origin:0 50%;transform:scaleX(0.9160);">Cameras</span>
<span class="t" style="left:1517.40px;top:1197.01px;font-size:13.45px;color:#9291a5;transform-origin:0 50%;transform:scaleX(0.9627);">- 29%</span>
<div style="position:absolute;left:1379.8px;top:1239.3px;width:12.4px;height:12.4px;border-radius:50%;border:1.400px solid #93aafd;"></div>
<span class="t" style="left:1400.30px;top:1239.78px;font-size:12.11px;color:#1e1b39;-webkit-text-stroke:0.2px #1e1b39;transform-origin:0 50%;transform:scaleX(0.9190);">Wearables</span>
<span class="t" style="left:1518.70px;top:1239.21px;font-size:13.45px;color:#9291a5;transform-origin:0 50%;transform:scaleX(0.9257);">- 21%</span>
<div style="position:absolute;left:1414.1px;top:406.1px;width:364.4px;height:335.8px;border-radius:11px;overflow:hidden;"><div style="position:absolute;left:-1414.1px;top:-406.1px;width:1850px;height:1250px;">
<div style="position:absolute;left:1480px;top:514px;width:298px;height:227.5px;background:#fff;border-radius:0 0 10px 0;"></div>
<div style="position:absolute;left:1415px;top:407px;width:306.5px;height:107px;background:#fff;border-radius:10px 12px 14px 12px;box-shadow:0 7px 16px rgba(16,24,40,.075), 0 1px 2px rgba(16,24,40,.03);"></div>
<div style="position:absolute;left:1721px;top:407px;width:57px;height:108px;background:#fff;border-radius:0 10px 0 0;"></div>
<div style="position:absolute;left:1415px;top:407px;width:306.5px;height:107px;background:#fff;border-radius:10px 12px 14px 12px;box-shadow:0 7px 16px rgba(16,24,40,.075), 0 1px 2px rgba(16,24,40,.03);"></div>
<span class="t" style="left:1434.60px;top:426.20px;font-size:18.22px;color:#111118;font-weight:700;transform-origin:0 50%;transform:scaleX(0.9085);">Expense by Categories</span>
<span class="t" style="left:1434.60px;top:461.01px;font-size:10.87px;color:#2b2b33;-webkit-text-stroke:0.2px #2b2b33;transform-origin:0 50%;transform:scaleX(0.9449);">Total Expenses</span>
<span class="t" style="left:1434.30px;top:478.55px;font-size:18.11px;color:#6d35fb;font-weight:700;transform-origin:0 50%;transform:scaleX(1.0095);">$33,898.41</span>
<span class="t" style="left:1628.10px;top:461.01px;font-size:10.87px;color:#2b2b33;-webkit-text-stroke:0.2px #2b2b33;transform-origin:0 50%;transform:scaleX(0.9597);">Categories</span>
<span class="t" style="left:1628.10px;top:478.55px;font-size:18.11px;color:#18163a;font-weight:700;transform-origin:0 50%;transform:scaleX(0.9278);">16</span>
<span class="t" style="left:1499.90px;top:515.13px;font-size:12.01px;color:#111118;font-weight:700;transform-origin:0 50%;transform:scaleX(0.9113);">Where your money is going</span>
<span class="t" style="left:1499.90px;top:547.76px;font-size:10.97px;color:#26262e;-webkit-text-stroke:0.15px #26262e;transform-origin:0 50%;transform:scaleX(0.9346);">Payroll processing expenses</span>
<span class="t" style="left:1709.60px;top:547.76px;font-size:10.97px;color:#26262e;-webkit-text-stroke:0.15px #26262e;transform-origin:0 50%;transform:scaleX(0.8670);">$11,547.21</span>
<div style="position:absolute;left:1500.2px;top:566.3px;width:256.3px;height:6.6px;background:#e9e9ee;border-radius:4px;"></div>
<div style="position:absolute;left:1500.2px;top:566.3px;width:150.89999999999986px;height:6.6px;background:#6d35fb;border-radius:4px;"></div>
<span class="t" style="left:1499.90px;top:587.51px;font-size:10.97px;color:#26262e;-webkit-text-stroke:0.15px #26262e;transform-origin:0 50%;transform:scaleX(0.9700);">Utilities</span>
<span class="t" style="left:1725.40px;top:587.51px;font-size:10.97px;color:#26262e;-webkit-text-stroke:0.15px #26262e;transform-origin:0 50%;transform:scaleX(0.9266);">$1,240</span>
<div style="position:absolute;left:1500.2px;top:606.05px;width:256.3px;height:6.6px;background:#e9e9ee;border-radius:4px;"></div>
<div style="position:absolute;left:1500.2px;top:606.05px;width:104.79999999999995px;height:6.6px;background:#6d35fb;border-radius:4px;"></div>
<span class="t" style="left:1499.90px;top:627.26px;font-size:10.97px;color:#26262e;-webkit-text-stroke:0.15px #26262e;transform-origin:0 50%;transform:scaleX(0.9585);">Software</span>
<span class="t" style="left:1724.00px;top:627.26px;font-size:10.97px;color:#26262e;-webkit-text-stroke:0.15px #26262e;transform-origin:0 50%;transform:scaleX(0.9683);">$3,547</span>
<div style="position:absolute;left:1500.2px;top:645.8px;width:256.3px;height:6.6px;background:#e9e9ee;border-radius:4px;"></div>
<div style="position:absolute;left:1500.2px;top:645.8px;width:86.09999999999991px;height:6.6px;background:#6d35fb;border-radius:4px;"></div>
<span class="t" style="left:1499.90px;top:667.01px;font-size:10.97px;color:#26262e;-webkit-text-stroke:0.15px #26262e;transform-origin:0 50%;transform:scaleX(0.9230);">General Insurance</span>
<span class="t" style="left:1712.50px;top:667.01px;font-size:10.97px;color:#26262e;-webkit-text-stroke:0.15px #26262e;transform-origin:0 50%;transform:scaleX(0.9014);">$7,547.50</span>
<div style="position:absolute;left:1500.2px;top:685.55px;width:256.3px;height:6.6px;background:#e9e9ee;border-radius:4px;"></div>
<div style="position:absolute;left:1500.2px;top:685.55px;width:96.79999999999995px;height:6.6px;background:#6d35fb;border-radius:4px;"></div>
<span class="t" style="left:1499.90px;top:706.76px;font-size:10.97px;color:#26262e;-webkit-text-stroke:0.15px #26262e;transform-origin:0 50%;transform:scaleX(0.9388);">Phone and Internet</span>
<span class="t" style="left:1706.70px;top:706.76px;font-size:10.97px;color:#26262e;-webkit-text-stroke:0.15px #26262e;transform-origin:0 50%;transform:scaleX(0.9070);">$10,747.48</span>
<div style="position:absolute;left:1500.2px;top:725.3px;width:256.3px;height:6.6px;background:#e9e9ee;border-radius:4px;"></div>
<div style="position:absolute;left:1500.2px;top:725.3px;width:164.70000000000005px;height:6.6px;background:#6d35fb;border-radius:4px;"></div>
<div style="position:absolute;left:1775.8px;top:508.8px;width:1px;height:7.199999999999989px;background:#d5d5dc;"></div>
<div style="position:absolute;left:1775.8px;top:632.6px;width:1px;height:11.399999999999977px;background:#d5d5dc;"></div>
<div style="position:absolute;left:1775.8px;top:684.4px;width:1px;height:11.600000000000023px;background:#d5d5dc;"></div>
</div></div>
<div style="position:absolute;left:1414.1px;top:406.1px;width:364.4px;height:335.8px;border:1.100px solid #6a6a78;border-radius:11px;"></div>
<div style="position:absolute;left:1432.5px;top:785px;width:204.2px;height:173px;background:#fff;border-radius:6px;box-shadow:0 1px 5px rgba(16,24,40,.05);"></div>
<span class="t" style="left:1442.10px;top:791.97px;font-size:8.38px;color:#25252c;-webkit-text-stroke:0.2px #25252c;transform-origin:0 50%;transform:scaleX(0.9767);">NETFLIX.COM</span>
<div style="position:absolute;left:1442.3px;top:805.2px;width:5.2px;height:5.2px;background:#cfcfd6;border-radius:1px;opacity:.8;"></div>
<span class="t" style="left:1449.90px;top:804.97px;font-size:5.8px;color:#9a9aa3;transform-origin:0 50%;transform:scaleX(0.9782);">23 Jun, 2024</span>
<span class="t" style="left:1613.80px;top:798.88px;font-size:7.56px;color:#25252c;font-weight:700;transform-origin:0 50%;transform:scaleX(0.9370);">$ 178</span>
<div style="position:absolute;left:1432.5px;top:819.47px;width:204.2px;height:0.9px;background:#f3f3f6;"></div>
<span class="t" style="left:1442.10px;top:826.74px;font-size:8.38px;color:#25252c;-webkit-text-stroke:0.2px #25252c;transform-origin:0 50%;transform:scaleX(0.9611);">UBER TRIP 9PLNYC</span>
<div style="position:absolute;left:1442.3px;top:839.97px;width:5.2px;height:5.2px;background:#cfcfd6;border-radius:1px;opacity:.8;"></div>
<span class="t" style="left:1449.90px;top:839.74px;font-size:5.8px;color:#9a9aa3;transform-origin:0 50%;transform:scaleX(0.9782);">23 Jun, 2024</span>
<span class="t" style="left:1613.80px;top:833.65px;font-size:7.56px;color:#25252c;font-weight:700;transform-origin:0 50%;transform:scaleX(0.9370);">$ 178</span>
<div style="position:absolute;left:1432.5px;top:854.24px;width:204.2px;height:0.9px;background:#f3f3f6;"></div>
<span class="t" style="left:1442.10px;top:861.51px;font-size:8.38px;color:#25252c;-webkit-text-stroke:0.2px #25252c;transform-origin:0 50%;transform:scaleX(0.9630);">WHOLE FOODS 102</span>
<div style="position:absolute;left:1442.3px;top:874.74px;width:5.2px;height:5.2px;background:#cfcfd6;border-radius:1px;opacity:.8;"></div>
<span class="t" style="left:1449.90px;top:874.51px;font-size:5.8px;color:#9a9aa3;transform-origin:0 50%;transform:scaleX(0.9782);">23 Jun, 2024</span>
<div style="position:absolute;left:1432.5px;top:889.01px;width:204.2px;height:0.9px;background:#f3f3f6;"></div>
<span class="t" style="left:1442.10px;top:896.28px;font-size:8.38px;color:#25252c;-webkit-text-stroke:0.2px #25252c;transform-origin:0 50%;transform:scaleX(1.0323);">SLACK*123456789</span>
<div style="position:absolute;left:1442.3px;top:909.51px;width:5.2px;height:5.2px;background:#cfcfd6;border-radius:1px;opacity:.8;"></div>
<span class="t" style="left:1449.90px;top:909.28px;font-size:5.8px;color:#9a9aa3;transform-origin:0 50%;transform:scaleX(0.9782);">23 Jun, 2024</span>
<div style="position:absolute;left:1432.5px;top:923.7800000000001px;width:204.2px;height:0.9px;background:#f3f3f6;"></div>
<span class="t" style="left:1442.10px;top:931.05px;font-size:8.38px;color:#25252c;-webkit-text-stroke:0.2px #25252c;transform-origin:0 50%;transform:scaleX(0.9732);">APPLE.COM/BILL</span>
<div style="position:absolute;left:1442.3px;top:944.2800000000001px;width:5.2px;height:5.2px;background:#cfcfd6;border-radius:1px;opacity:.8;"></div>
<span class="t" style="left:1449.90px;top:944.05px;font-size:5.8px;color:#9a9aa3;transform-origin:0 50%;transform:scaleX(0.9782);">23 Jun, 2024</span>
<div style="position:absolute;left:1653px;top:793.2px;width:93.4px;height:36px;background:#837fcb;border-radius:9px;"></div>
<svg style="left:0;top:0" width="1850" height="1250" viewBox="0 0 1850 1250" fill="#fff" stroke="#fff" stroke-width="0.5" stroke-linejoin="round"><path d="M1670.40,806.50Q1671.43,810.17 1675.10,811.20Q1671.43,812.23 1670.40,815.90Q1669.37,812.23 1665.70,811.20Q1669.37,810.17 1670.40,806.50Z"/><path d="M1676.30,803.20Q1676.85,804.85 1678.50,805.40Q1676.85,805.95 1676.30,807.60Q1675.75,805.95 1674.10,805.40Q1675.75,804.85 1676.30,803.20Z"/><path d="M1676.30,814.40Q1676.85,816.05 1678.50,816.60Q1676.85,817.15 1676.30,818.80Q1675.75,817.15 1674.10,816.60Q1675.75,816.05 1676.30,814.40Z"/></svg>
<span class="t" style="left:1684.80px;top:806.49px;font-size:9.52px;color:#fff;-webkit-text-stroke:0.15px #fff;transform-origin:0 50%;transform:scaleX(0.9410);">AI Powered</span>
<div style="position:absolute;left:1554.7px;top:839.5px;width:204.2px;height:209px;background:#fff;border-radius:7px;box-shadow:0 1px 6px rgba(16,24,40,.055);"></div>
<div style="position:absolute;left:1560.8px;top:847.4px;width:20.4px;height:20.4px;background:#f3f3f6;border-radius:50%;"></div>
<svg style="left:1565.5px;top:852.0999999999999px" width="11" height="11" viewBox="0 0 24 24" fill="#2fa36b"><path d="M2 3h3.500l.8 3H22l-2.500 9H8L5 5H2z"/><circle cx="9.500" cy="19.500" r="2"/><circle cx="17.500" cy="19.500" r="2"/></svg>
<span class="t" style="left:1587.80px;top:846.81px;font-size:8.9px;color:#33333b;-webkit-text-stroke:0.2px #33333b;transform-origin:0 50%;transform:scaleX(0.9503);">Whole Foods</span>
<div style="position:absolute;left:1588px;top:860.1999999999999px;width:5.2px;height:5.2px;background:#cfcfd6;border-radius:1px;opacity:.8;"></div>
<span class="t" style="left:1595.60px;top:860.07px;font-size:5.8px;color:#9a9aa3;transform-origin:0 50%;transform:scaleX(0.9692);">23 Jun, 2024</span>
<div style="position:absolute;left:1730.3px;top:845.0999999999999px;width:23.4px;height:11.3px;background:#f0fafb;border:.8px solid #c4e6ec;border-radius:5.500px;"></div>
<span class="t" style="left:1742.00px;top:847.81px;font-size:6.11px;color:#4a7c86;-webkit-text-stroke:0.15px #4a7c86;transform:translateX(-50%);">Meal</span>
<span class="t" style="left:1736.00px;top:860.48px;font-size:7.76px;color:#33333b;font-weight:700;transform-origin:0 50%;transform:scaleX(0.9121);">$ 178</span>
<div style="position:absolute;left:1554.7px;top:874.3px;width:204.2px;height:0.9px;background:#f3f3f6;"></div>
<div style="position:absolute;left:1560.8px;top:882.1999999999999px;width:20.4px;height:20.4px;background:#f3f3f6;border-radius:50%;"></div>
<svg style="left:1565.5px;top:886.8999999999999px" width="11" height="11" viewBox="0 0 24 24" fill="#7b6fc4"><path d="M12 2l8 3v7c0 5-3.500 8.500-8 10-4.500-1.500-8-5-8-10V5z"/><circle cx="12" cy="11" r="3.500" fill="#f3f3f6"/></svg>
<span class="t" style="left:1587.80px;top:881.61px;font-size:8.9px;color:#33333b;-webkit-text-stroke:0.2px #33333b;transform-origin:0 50%;transform:scaleX(1.0336);">Netflix</span>
<div style="position:absolute;left:1588px;top:894.9999999999999px;width:5.2px;height:5.2px;background:#cfcfd6;border-radius:1px;opacity:.8;"></div>
<span class="t" style="left:1595.60px;top:894.87px;font-size:5.8px;color:#9a9aa3;transform-origin:0 50%;transform:scaleX(0.9692);">23 Jun, 2024</span>
<div style="position:absolute;left:1702.2px;top:879.8999999999999px;width:51.5px;height:11.3px;background:#eefbf4;border:.8px solid #a6e9c5;border-radius:5.500px;"></div>
<span class="t" style="left:1727.95px;top:882.61px;font-size:6.11px;color:#1a9a5b;-webkit-text-stroke:0.15px #1a9a5b;transform:translateX(-50%);">Office Expanse</span>
<span class="t" style="left:1736.00px;top:895.28px;font-size:7.76px;color:#33333b;font-weight:700;transform-origin:0 50%;transform:scaleX(0.9121);">$ 178</span>
<div style="position:absolute;left:1554.7px;top:909.1px;width:204.2px;height:0.9px;background:#f3f3f6;"></div>
<div style="position:absolute;left:1560.8px;top:917.0px;width:20.4px;height:20.4px;background:#f3f3f6;border-radius:50%;"></div>
<svg style="left:1565.5px;top:921.6999999999999px" width="11" height="11" viewBox="0 0 24 24" fill="none" stroke="#8a9aa5" stroke-width="3" stroke-linecap="round"><path d="M4 4l16 16M20 4L4 20"/><circle cx="5" cy="5" r="1.500"/><circle cx="19" cy="5" r="1.500"/></svg>
<span class="t" style="left:1587.80px;top:916.41px;font-size:8.9px;color:#33333b;-webkit-text-stroke:0.2px #33333b;transform-origin:0 50%;transform:scaleX(0.9727);">Dhaka Tour</span>
<div style="position:absolute;left:1588px;top:929.8px;width:5.2px;height:5.2px;background:#cfcfd6;border-radius:1px;opacity:.8;"></div>
<span class="t" style="left:1595.60px;top:929.67px;font-size:5.8px;color:#9a9aa3;transform-origin:0 50%;transform:scaleX(0.9692);">23 Jun, 2024</span>
<div style="position:absolute;left:1727.2px;top:914.6999999999999px;width:26.5px;height:11.3px;background:#fff6ee;border:.8px solid #fcd9bd;border-radius:5.500px;"></div>
<span class="t" style="left:1740.45px;top:917.41px;font-size:6.11px;color:#c4501b;-webkit-text-stroke:0.15px #c4501b;transform:translateX(-50%);">Travel</span>
<span class="t" style="left:1736.00px;top:930.08px;font-size:7.76px;color:#33333b;font-weight:700;transform-origin:0 50%;transform:scaleX(0.9121);">$ 178</span>
<div style="position:absolute;left:1554.7px;top:943.9px;width:204.2px;height:0.9px;background:#f3f3f6;"></div>
<div style="position:absolute;left:1560.8px;top:951.8px;width:20.4px;height:20.4px;background:#f3f3f6;border-radius:50%;"></div>
<svg style="left:1565.5px;top:956.4999999999999px" width="11" height="11" viewBox="0 0 24 24" fill="none" stroke="#e2703a" stroke-width="2.600"><circle cx="12" cy="12" r="9"/><path d="M13 5l-4 8h5l-2 6" stroke-linejoin="round" fill="#e2703a"/></svg>
<span class="t" style="left:1587.80px;top:951.21px;font-size:8.9px;color:#33333b;-webkit-text-stroke:0.2px #33333b;transform-origin:0 50%;transform:scaleX(0.9584);">Slack</span>
<div style="position:absolute;left:1588px;top:964.5999999999999px;width:5.2px;height:5.2px;background:#cfcfd6;border-radius:1px;opacity:.8;"></div>
<span class="t" style="left:1595.60px;top:964.47px;font-size:5.8px;color:#9a9aa3;transform-origin:0 50%;transform:scaleX(0.9692);">23 Jun, 2024</span>
<div style="position:absolute;left:1677.0px;top:949.4999999999999px;width:76.7px;height:11.3px;background:#f2fafc;border:.8px solid #cfeaf1;border-radius:5.500px;"></div>
<span class="t" style="left:1715.35px;top:952.21px;font-size:6.11px;color:#55707a;-webkit-text-stroke:0.15px #55707a;transform:translateX(-50%);">Software &amp; Subscription</span>
<span class="t" style="left:1736.00px;top:964.88px;font-size:7.76px;color:#33333b;font-weight:700;transform-origin:0 50%;transform:scaleX(0.9121);">$ 178</span>
<div style="position:absolute;left:1554.7px;top:978.7px;width:204.2px;height:0.9px;background:#f3f3f6;"></div>
<div style="position:absolute;left:1560.8px;top:986.6px;width:20.4px;height:20.4px;background:#f3f3f6;border-radius:50%;"></div>
<svg style="left:1565.5px;top:991.3px" width="11" height="11" viewBox="0 0 24 24" fill="#27a567"><circle cx="12" cy="12" r="10.500"/><path d="M12 2v20M3 9h18M3 15h18" stroke="#f3f3f6" stroke-width="1.500"/></svg>
<span class="t" style="left:1587.80px;top:986.01px;font-size:8.9px;color:#33333b;-webkit-text-stroke:0.2px #33333b;transform-origin:0 50%;transform:scaleX(0.9688);">Mobile Recharge</span>
<div style="position:absolute;left:1588px;top:999.4px;width:5.2px;height:5.2px;background:#cfcfd6;border-radius:1px;opacity:.8;"></div>
<span class="t" style="left:1595.60px;top:999.27px;font-size:5.8px;color:#9a9aa3;transform-origin:0 50%;transform:scaleX(0.9692);">23 Jun, 2024</span>
<div style="position:absolute;left:1728.2px;top:984.3px;width:25.5px;height:11.3px;background:#fff8e6;border:.8px solid #f7d58a;border-radius:5.500px;"></div>
<span class="t" style="left:1740.95px;top:987.01px;font-size:6.11px;color:#c7681c;-webkit-text-stroke:0.15px #c7681c;transform:translateX(-50%);">Utility</span>
<span class="t" style="left:1736.00px;top:999.68px;font-size:7.76px;color:#33333b;font-weight:700;transform-origin:0 50%;transform:scaleX(0.9121);">$ 178</span>
<div style="position:absolute;left:1554.7px;top:1013.5px;width:204.2px;height:0.9px;background:#f3f3f6;"></div>
<div style="position:absolute;left:1560.8px;top:1021.4px;width:20.4px;height:20.4px;background:#f3f3f6;border-radius:50%;"></div>
<svg style="left:1565.5px;top:1026.1px" width="11" height="11" viewBox="0 0 24 24" fill="#e8423f"><path d="M12 1c1 4 6 7 6 13a6 6 0 0 1-12 0c0-3 1.500-4.500 3-7 .5 2 1.500 3 2 3 .5-3 0-6 1-9z"/><path d="M12 14c1 1.500 2.500 2.500 2.500 4.500a2.500 2.500 0 0 1-5 0c0-1.800 1.500-2.500 2.500-4.500z" fill="#fbb"/></svg>
<span class="t" style="left:1587.80px;top:1020.81px;font-size:8.9px;color:#33333b;-webkit-text-stroke:0.2px #33333b;transform-origin:0 50%;transform:scaleX(0.9213);">Gas</span>
<div style="position:absolute;left:1588px;top:1034.2px;width:5.2px;height:5.2px;background:#cfcfd6;border-radius:1px;opacity:.8;"></div>
<span class="t" style="left:1595.60px;top:1034.07px;font-size:5.8px;color:#9a9aa3;transform-origin:0 50%;transform:scaleX(0.9692);">23 Jun, 2024</span>
<div style="position:absolute;left:1728.2px;top:1019.0999999999999px;width:25.5px;height:11.3px;background:#fff8e6;border:.8px solid #f7d58a;border-radius:5.500px;"></div>
<span class="t" style="left:1740.95px;top:1021.81px;font-size:6.11px;color:#c7681c;-webkit-text-stroke:0.15px #c7681c;transform:translateX(-50%);">Utility</span>
<span class="t" style="left:1736.00px;top:1034.48px;font-size:7.76px;color:#33333b;font-weight:700;transform-origin:0 50%;transform:scaleX(0.9121);">$ 178</span>
<div style="position:absolute;left:1438.2px;top:991.7px;width:122.3px;height:43.8px;background:#7f8f9b;border-radius:9px;"></div>
<span class="t" style="left:1477.80px;top:997.55px;font-size:20.29px;color:#fff;font-weight:700;transform-origin:0 50%;transform:scaleX(1.0593);">98%</span>
<span class="t" style="left:1448.30px;top:1018.01px;font-size:8.9px;color:#fff;-webkit-text-stroke:0.15px #fff;transform-origin:0 50%;transform:scaleX(1.0658);">Categorization Accuracy</span>
<div style="position:absolute;left:1413.9px;top:764px;width:365px;height:305.5px;border:1.300px solid #40404a;border-radius:11px;"></div>
<div style="position:absolute;left:86.6px;top:624.3px;width:4px;height:24.0px;background:#1b1720;border-radius:1.500px;"></div>
<div style="position:absolute;left:86.6px;top:678.8px;width:4px;height:49.200000000000045px;background:#1b1720;border-radius:1.500px;"></div>
<div style="position:absolute;left:86.6px;top:749.6px;width:4px;height:50.39999999999998px;background:#1b1720;border-radius:1.500px;"></div>
<div style="position:absolute;left:445px;top:715px;width:4.6px;height:84px;background:#1b1720;border-radius:1.500px;"></div>
<div style="position:absolute;left:89px;top:481.3px;width:357px;height:735.8px;border-radius:59px;background:#000;box-shadow:inset 0 0 0 1.200px #3b3444, inset 0 0 0 2.400px #9386a6, inset 0 0 0 3.600px #2a2530;"></div>
<div style="position:absolute;left:103.2px;top:495.4px;width:328.3px;height:707.3px;border-radius:46px;overflow:hidden;background:#000;">
<div style="position:absolute;left:-103.2px;top:-495.4px;width:1850px;height:1250px;">
<div style="position:absolute;left:103.2px;top:583.4px;width:328.3px;height:619.3px;background:#fff;"></div>
<div style="position:absolute;left:103.2px;top:495.4px;width:328.3px;height:88.2px;background:#101624;"></div>
<span class="t" style="left:134.60px;top:507.08px;font-size:14.49px;color:#fff;-webkit-text-stroke:0.3px #fff;transform-origin:0 50%;transform:scaleX(1.0141);">9:41</span>
<svg style="left:346px;top:507px" width="66" height="13" viewBox="0 0 66 13" fill="#fff"><rect x="1" y="8.8" width="3" height="3.2" rx=".8"/><rect x="5.3" y="6.7" width="3" height="5.3" rx=".8"/><rect x="9.6" y="4.4" width="3" height="7.6" rx=".8"/><rect x="13.9" y="2" width="3" height="10" rx=".8"/><path d="M23.700 5.300a10 10 0 0 1 14 0l-1.400 1.500a8 8 0 0 0-11.200 0z"/><path d="M26.200 7.900a6.400 6.400 0 0 1 9 0l-1.400 1.500a4.400 4.400 0 0 0-6.200 0z"/><path d="M28.700 10.500a2.900 2.900 0 0 1 4 0l-2 2.100z"/><rect x="45.400" y="2.500" width="17.800" height="7.800" rx="2.200"/><rect x="64.300" y="5" width="1.200" height="2.800" rx=".6" opacity=".5"/></svg>
<svg style="left:121px;top:546px" width="19" height="16" viewBox="0 0 19 16" stroke="#fff" stroke-width="1.500" stroke-linecap="round"><path d="M.8 2.700H17.500M.8 7.900H13.500M.8 13.200H17.500"/></svg>
<span class="t" style="left:154.80px;top:546.32px;font-size:17.18px;color:#fff;-webkit-text-stroke:0.35px #fff;transform-origin:0 50%;transform:scaleX(1.0365);">Tabby</span>
<svg style="left:222.500px;top:545.500px" width="18" height="17" viewBox="0 0 18 17" fill="none" stroke="#fff" stroke-width="1.400" stroke-linecap="round"><rect x="1" y="1" width="16" height="15" rx="2.500"/><path d="M9 5v7M5.500 8.500h7"/></svg>
<svg style="left:359.500px;top:542.500px" width="18" height="22" viewBox="0 0 18 22" fill="none" stroke="#fff" stroke-width="1.400" stroke-linecap="round" stroke-linejoin="round"><rect x="2.800" y="3" width="12.400" height="9.600" rx="4"/><path d="M9 1v2M1.200 6.500v3M16.800 6.500v3" stroke-width="1.800"/><rect x="5.600" y="6.400" width="2.200" height="2.400" fill="#fff" stroke="none" rx=".5"/><rect x="10.200" y="6.400" width="2.200" height="2.400" fill="#fff" stroke="none" rx=".5"/><path d="M2 21c0-3.500 2.500-5.500 5-5.500h4c2.500 0 5 2 5 5.500"/></svg>
<svg style="left:393.500px;top:547px" width="18.500" height="19" viewBox="0 0 18.500 19" fill="none" stroke="#fff" stroke-width="1.400" stroke-linecap="round" stroke-linejoin="round"><path d="M3.800 8.200a5.400 5.400 0 0 1 10.800 0c0 3.600 1.300 5.300 2.600 6.500H1.300C2.600 13.500 3.800 11.800 3.800 8.200zM7.500 17.800h3.500"/></svg>
<div style="position:absolute;left:404.8px;top:539.8px;width:10.4px;height:10.4px;border-radius:50%;background:#4cd99a;"></div>
<span class="t" style="left:120.00px;top:607.76px;font-size:17.91px;color:#101828;-webkit-text-stroke:0.64px #101828;transform-origin:0 50%;transform:scaleX(1.0291);">Overview</span>
<div style="position:absolute;left:314px;top:600.7px;width:104.5px;height:32.5px;border:1px solid #d0d5dd;border-radius:7px;box-sizing:border-box;"></div>
<span class="t" style="left:327.80px;top:610.62px;font-size:12.63px;color:#344054;-webkit-text-stroke:0.45px #344054;transform-origin:0 50%;transform:scaleX(1.0262);">6 months</span>
<svg style="left:390.500px;top:612.500px" width="12" height="8" viewBox="0 0 12 8" fill="none" stroke="#344054" stroke-width="1.500" stroke-linecap="round" stroke-linejoin="round"><path d="M1.500 1.500L6 6l4.500-4.500"/></svg>
<span class="t" style="left:119.70px;top:652.82px;font-size:12.63px;color:#475467;-webkit-text-stroke:0.2px #475467;transform-origin:0 50%;transform:scaleX(1.0242);">Net Profit/Loss</span>
<span class="t" style="left:119.60px;top:678.90px;font-size:16.04px;color:#101828;-webkit-text-stroke:0.3px #101828;transform-origin:0 50%;transform:scaleX(1.0088);">$</span>
<span class="t" style="left:132.00px;top:676.53px;font-size:26.08px;color:#101828;-webkit-text-stroke:0.94px #101828;transform-origin:0 50%;transform:scaleX(1.0531);">18,880</span>
<svg style="left:371.5px;top:684.8px" width="16.6" height="9" viewBox="0 0 17 9.200" fill="none" stroke="#17b26a" stroke-width="1.5" stroke-linecap="round" stroke-linejoin="round"><path d="M.8 8.300l4-4.300 2.700 2.500 2.500-.3L16 .9M10.800.8H16.200V6"/></svg>
<span class="t" style="left:392.20px;top:683.43px;font-size:12.21px;color:#079455;-webkit-text-stroke:0.3px #079455;transform-origin:0 50%;transform:scaleX(0.9343);">7.4%</span>
<svg style="left:0;top:0" width="1850" height="1250" viewBox="0 0 1850 1250"><defs><linearGradient id="cg2" x1="0" y1="0" x2="0" y2="1"><stop offset="0" stop-color="#7f56d9" stop-opacity="0.16"/><stop offset="1" stop-color="#7f56d9" stop-opacity="0"/></linearGradient></defs><line x1="119.4" y1="734.4" x2="419.4" y2="734.4" stroke="#eef0f4" stroke-width="1.100"/><line x1="119.4" y1="763.4" x2="419.4" y2="763.4" stroke="#eef0f4" stroke-width="1.100"/><line x1="119.4" y1="790" x2="419.4" y2="790" stroke="#eef0f4" stroke-width="1.100"/><line x1="119.4" y1="816.6" x2="419.4" y2="816.6" stroke="#eef0f4" stroke-width="1.100"/><line x1="119.4" y1="843" x2="419.4" y2="843" stroke="#eef0f4" stroke-width="1.100"/><line x1="119.4" y1="870" x2="419.4" y2="870" stroke="#eef0f4" stroke-width="1.100"/><polygon points="119.4,870 119.4,790.0 126.7,787.3 133.3,786.3 140.3,788.7 148.0,787.6 155.1,787.3 162.2,786.3 168.7,786.2 175.2,784.7 181.7,786.3 190.0,783.7 195.9,784.9 202.4,783.7 208.9,782.7 216.6,783.7 223.1,782.5 228.4,780.0 235.5,777.8 243.2,775.9 250.3,775.9 258.0,774.5 263.9,775.7 267.5,775.9 272.7,777.8 278.7,781.2 284.0,782.5 287.0,782.5 292.9,777.8 298.2,775.9 304.1,774.5 311.9,773.5 316.3,770.6 324.0,768.9 331.0,767.9 334.2,767.9 345.8,770.6 350.9,773.5 357.3,773.5 363.7,770.6 370.1,772.2 376.5,773.8 382.9,771.7 390.6,770.8 395.7,769.3 398.9,767.3 402.8,767.3 406.0,763.8 412.4,763.8 419.4,759.4 419.4,870" fill="url(#cg2)"/><polyline points="119.4,790.0 126.7,787.3 133.3,786.3 140.3,788.7 148.0,787.6 155.1,787.3 162.2,786.3 168.7,786.2 175.2,784.7 181.7,786.3 190.0,783.7 195.9,784.9 202.4,783.7 208.9,782.7 216.6,783.7 223.1,782.5 228.4,780.0 235.5,777.8 243.2,775.9 250.3,775.9 258.0,774.5 263.9,775.7 267.5,775.9 272.7,777.8 278.7,781.2 284.0,782.5 287.0,782.5 292.9,777.8 298.2,775.9 304.1,774.5 311.9,773.5 316.3,770.6 324.0,768.9 331.0,767.9 334.2,767.9 345.8,770.6 350.9,773.5 357.3,773.5 363.7,770.6 370.1,772.2 376.5,773.8 382.9,771.7 390.6,770.8 395.7,769.3 398.9,767.3 402.8,767.3 406.0,763.8 412.4,763.8 419.4,759.4" fill="none" stroke="#6d3fd6" stroke-width="1.600" stroke-linejoin="round"/><polyline points="119.4,819.0 126.7,817.3 133.3,816.6 140.3,818.2 148.0,817.4 155.1,817.3 162.2,816.6 168.7,816.5 175.2,815.6 181.7,816.6 190.0,815.0 195.9,815.7 202.4,815.0 208.9,814.3 216.6,815.0 223.1,814.2 228.4,812.6 235.5,811.2 243.2,810.0 250.3,810.0 258.0,809.1 263.9,809.9 267.5,810.0 272.7,811.2 278.7,813.4 284.0,814.2 287.0,814.2 292.9,811.2 298.2,810.0 304.1,809.1 311.9,808.4 316.3,806.6 324.0,805.5 331.0,804.9 334.2,804.9 345.8,806.6 350.9,808.4 357.3,808.4 363.7,806.6 370.1,807.6 376.5,808.6 382.9,807.3 390.6,806.7 395.7,805.7 398.9,804.5 402.8,804.5 406.0,802.2 412.4,802.2 419.4,799.4" fill="none" stroke="#a97df2" stroke-width="1.500" stroke-linejoin="round"/></svg>
<span class="t" style="left:135.70px;top:878.59px;font-size:11.7px;color:#475467;transform:translateX(-50%);">Mar</span>
<span class="t" style="left:190.20px;top:878.59px;font-size:11.7px;color:#475467;transform:translateX(-50%);">May</span>
<span class="t" style="left:242.80px;top:878.59px;font-size:11.7px;color:#475467;transform:translateX(-50%);">Jul</span>
<span class="t" style="left:294.00px;top:878.59px;font-size:11.7px;color:#475467;transform:translateX(-50%);">Sep</span>
<span class="t" style="left:348.00px;top:878.59px;font-size:11.7px;color:#475467;transform:translateX(-50%);">Nov</span>
<span class="t" style="left:402.50px;top:878.59px;font-size:11.7px;color:#475467;transform:translateX(-50%);">Dec</span>
<span class="t" style="left:119.80px;top:915.17px;font-size:12.73px;color:#475467;-webkit-text-stroke:0.2px #475467;transform-origin:0 50%;transform:scaleX(0.9900);">Income</span>
<span class="t" style="left:278.20px;top:914.97px;font-size:12.73px;color:#475467;-webkit-text-stroke:0.2px #475467;transform-origin:0 50%;transform:scaleX(0.9721);">Expenses</span>
<div style="position:absolute;left:103.2px;top:495.4px;width:328.3px;height:707.3px;background:rgba(0,0,0,.3);"></div>
<div style="position:absolute;left:103.2px;top:933.5px;width:328.3px;height:300px;background:#fcfcfd;border-radius:31px 31px 0 0;"></div>
<span class="t" style="left:248.25px;top:961.21px;font-size:13.45px;color:#16161d;-webkit-text-stroke:0.48px #16161d;transform-origin:0 50%;transform:scaleX(1.0534);">Create</span>
<div style="position:absolute;left:127px;top:1001.4px;width:285.3px;height:44px;background:#fff;border-radius:13px;box-shadow:0 3px 5px rgba(30,35,60,.07), 0 0 2px rgba(30,35,60,.05);"></div>
<span class="t" style="left:167.90px;top:1017.68px;font-size:12.52px;color:#1b1b2e;-webkit-text-stroke:0.3px #1b1b2e;transform-origin:0 50%;transform:scaleX(0.9319);">Expense</span>
<svg style="left:389.500px;top:1017.9px" width="8" height="12" viewBox="0 0 8 12" fill="none" stroke="#b8bcc8" stroke-width="1.200" stroke-linecap="round" stroke-linejoin="round"><path d="M1.500 1.200L6.500 6l-5 4.800"/></svg>
<div style="position:absolute;left:127px;top:1049.4px;width:285.3px;height:44px;background:#fff;border-radius:13px;box-shadow:0 3px 5px rgba(30,35,60,.07), 0 0 2px rgba(30,35,60,.05);"></div>
<span class="t" style="left:169.10px;top:1065.68px;font-size:12.52px;color:#1b1b2e;-webkit-text-stroke:0.3px #1b1b2e;transform-origin:0 50%;transform:scaleX(0.9160);">Bill</span>
<svg style="left:389.500px;top:1065.9px" width="8" height="12" viewBox="0 0 8 12" fill="none" stroke="#b8bcc8" stroke-width="1.200" stroke-linecap="round" stroke-linejoin="round"><path d="M1.500 1.200L6.500 6l-5 4.800"/></svg>
<div style="position:absolute;left:127px;top:1098.2px;width:285.3px;height:44px;background:#fff;border-radius:13px;box-shadow:0 3px 5px rgba(30,35,60,.07), 0 0 2px rgba(30,35,60,.05);"></div>
<span class="t" style="left:167.90px;top:1114.48px;font-size:12.52px;color:#1b1b2e;-webkit-text-stroke:0.3px #1b1b2e;transform-origin:0 50%;transform:scaleX(0.9532);">Invoice</span>
<svg style="left:389.500px;top:1114.7px" width="8" height="12" viewBox="0 0 8 12" fill="none" stroke="#b8bcc8" stroke-width="1.200" stroke-linecap="round" stroke-linejoin="round"><path d="M1.500 1.200L6.500 6l-5 4.800"/></svg>
<div style="position:absolute;left:127px;top:1146.3px;width:285.3px;height:44px;background:#fff;border-radius:13px;box-shadow:0 3px 5px rgba(30,35,60,.07), 0 0 2px rgba(30,35,60,.05);"></div>
<span class="t" style="left:167.90px;top:1162.58px;font-size:12.52px;color:#1b1b2e;-webkit-text-stroke:0.3px #1b1b2e;transform-origin:0 50%;transform:scaleX(0.9696);">Customer</span>
<svg style="left:389.500px;top:1162.8px" width="8" height="12" viewBox="0 0 8 12" fill="none" stroke="#b8bcc8" stroke-width="1.200" stroke-linecap="round" stroke-linejoin="round"><path d="M1.500 1.200L6.500 6l-5 4.800"/></svg>
<svg style="left:138px;top:1012px" width="21" height="23.500" viewBox="0 0 21 23.500"><path d="M9.900 .2l4.500 4.500h-3v4h-3v-4h-3z" fill="#fb6281"/><path d="M2.800 7.500h4.700v2.300h4.800v-2.300h4.900a2.400 2.400 0 0 1 2.400 2.400v3.300h-5.300a2.500 2.500 0 0 0 0 5h5.300v2.500a2.400 2.400 0 0 1-2.400 2.400H2.800A2.400 2.400 0 0 1 .4 20.700V9.900a2.400 2.400 0 0 1 2.400-2.400z" fill="#fb6281"/><rect x="13.600" y="14.700" width="6.800" height="2.300" rx="1.100" fill="#fb6281"/></svg>
<svg style="left:139px;top:1060px" width="19" height="24" viewBox="0 0 19 24" fill="none" stroke="#111" stroke-width="1.700" stroke-linejoin="miter"><path d="M1 1h17v21.500l-2.800-2.500-2.900 2.500-2.800-2.500-2.800 2.500-2.900-2.500L1 22.500z"/><path d="M4.500 6.500h10M4.500 10h7M4.500 13.500h7M13.500 10h1.500M13.500 13.500h1.500" stroke-width="1.600"/></svg>
<svg style="left:139.300px;top:1109.500px" width="18" height="22" viewBox="0 0 18 22" fill="none" stroke="#222" stroke-width="1"><path d="M.6.600h16.800v20l-1.400-1.200-1.400 1.200-1.400-1.200-1.400 1.200-1.400-1.200-1.400 1.200-1.400-1.200-1.400 1.200-1.400-1.200-1.400 1.200-1.400-1.200L.6 20.600z"/><path d="M4.200 13.600h9.600M4.200 16.300h9.600"/></svg>
<span class="t" style="left:148.30px;top:1112.10px;font-size:9.31px;color:#111;font-weight:700;transform:translateX(-50%);">$</span>
<svg style="left:138px;top:1156.500px" width="21.500" height="23" viewBox="0 0 21.500 23" fill="none" stroke="#6c55f9" stroke-width=".9" stroke-linejoin="round"><path d="M10.700.6c3 0 4.700 2.200 4.700 5.200 0 1.200-.3 2.300-.7 3.200.5.200.6.900.3 1.600-.2.600-.6.900-1 .9-.4 1-.9 1.800-1.400 2.300v1.700c0 1 .8 1.700 2.500 2.400 2.800 1.100 5.300 2.100 5.800 4.500H.6c.5-2.400 3-3.400 5.800-4.500 1.700-.7 2.500-1.400 2.500-2.400v-1.700c-.5-.5-1-1.300-1.400-2.300-.4 0-.8-.3-1-.9-.3-.7-.2-1.400.3-1.600-.4-.9-.7-2-.7-3.200 0-3 1.600-5.200 4.600-5.200z"/></svg>
</div></div>
<div style="position:absolute;left:215.7px;top:505px;width:102.7px;height:30.4px;background:#000;border-radius:15.200px;"></div>
<div style="position:absolute;left:297.8px;top:512.7px;width:13px;height:13px;border-radius:50%;background:radial-gradient(circle at 50% 50%, #1a2036 0 25%, #0a0c14 45%, #111 100%);"></div></body></html>
